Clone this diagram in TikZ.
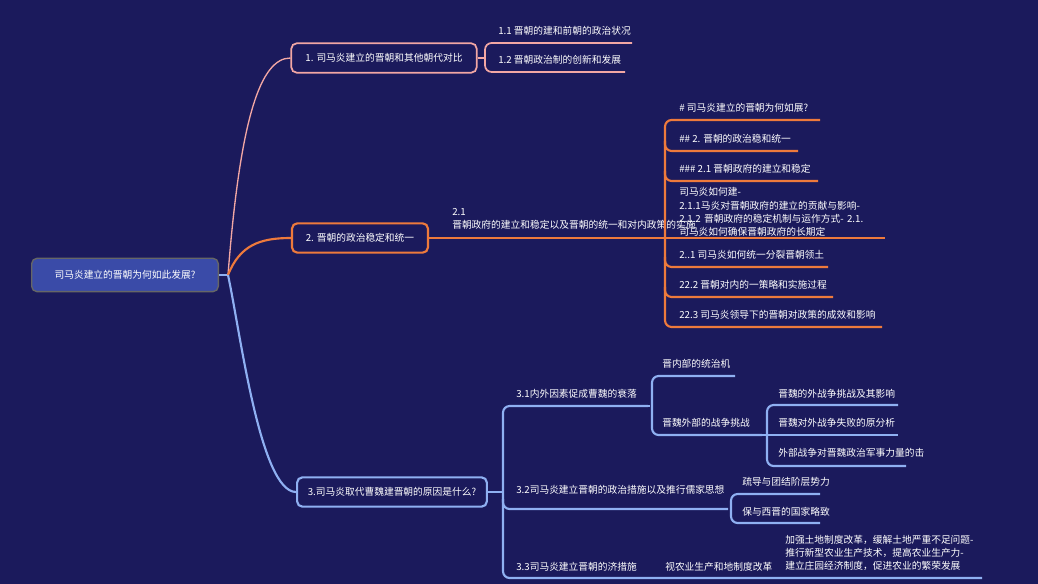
\documentclass[tikz,border=0pt]{standalone}
\usepackage{fontspec}
\setmainfont{Noto Sans CJK SC}
\begin{document}
\begin{tikzpicture}[x=0.75pt,y=-0.75pt,
  every node/.style={font=\fontsize{7.3}{10}\selectfont,text=white,inner sep=0pt},
  lbl/.style={anchor=west,align=left},
  pk/.style={draw=pinkc,line width=1.3pt},
  og/.style={draw=orgc,line width=1.6pt},
  bl/.style={draw=bluc,line width=1.6pt},
  box/.style={rounded corners=4pt,fill=bgc,inner xsep=8pt,minimum height=22pt}]
\definecolor{bgc}{HTML}{1B1A5C}
\definecolor{pinkc}{HTML}{F2A7A4}
\definecolor{orgc}{HTML}{EE7A3C}
\definecolor{bluc}{HTML}{8FB0F2}
\definecolor{rootc}{HTML}{3A4BA8}
\fill[bgc] (0,0) rectangle (1038,584);
\useasboundingbox (0,0) rectangle (1038,584);
% root
\node[rounded corners=4pt,fill=rootc,draw=black!60,line width=1pt,minimum width=140pt,minimum height=25pt] (root) at (125,275) {司马炎建立的晋朝为何如此发展?};
\coordinate (r) at (228,275);
\draw[bl] (root.east) -- (r);
% branch 1
\node[box,pk,minimum width=139pt] (b1) at (384,58) {1. 司马炎建立的晋朝和其他朝代对比};
\draw[pk,line width=1pt] (r) .. controls (240,120) and (260,58) .. (b1.west);
\draw[pk,rounded corners=5pt] (b1.east) -- (485,58);
\draw[pk,rounded corners=5pt] (632,43) -- (485,43) -- (485,72) -- (625,72);
\node[lbl] (t11) at (498,31) {1.1 晋朝的建和前朝的政治状况};
\node[lbl] (t12) at (498,60) {1.2 晋朝政治制的创新和发展};
% branch 2
\node[box,og,minimum width=102pt] (b2) at (360,238) {2. 晋朝的政治稳定和统一};
\draw[og] (r) .. controls (240,245) and (260,238) .. (b2.west);
\coordinate (c2) at (660,238);
\draw[og] (b2.east) -- (c2);
\node[lbl,text width=150pt] (t21) at (452,219) {2.1 晋朝政府的建立和稳定以及晋朝的统一和对内政策的实施};
\draw[og,rounded corners=5pt] (820,120) -- (665,120) -- (665,327) -- (882,327);
\draw[og] (c2) -- (885,238);
\foreach \y/\e in {151/798,181/818,267/828,297/833}
  \draw[og,rounded corners=5pt] (665,\y-10) -- (665,\y) -- (\e,\y);
\node[lbl] (a1) at (679,108) {\# 司马炎建立的晋朝为何如展?};
\node[lbl] (a2) at (679,139) {\#\# 2. 晋朝的政治稳和统一};
\node[lbl] (a3) at (679,169) {\#\#\# 2.1 晋朝政府的建立和稳定};
\node[lbl,text width=155pt] (a4) at (679,212) {司马炎如何建- 2.1.1马炎对晋朝政府的建立的贡献与影响- 2.1.2 晋朝政府的稳定机制与运作方式- 2.1. 司马炎如何确保晋朝政府的长期定};
\node[lbl] (a5) at (679,255) {2..1 司马炎如何统一分裂晋朝领土};
\node[lbl] (a6) at (679,285) {22.2 晋朝对内的一策略和实施过程};
\node[lbl] (a7) at (679,315) {22.3 司马炎领导下的晋朝对政策的成效和影响};
% branch 3
\node[box,bl,minimum width=140pt] (b3) at (392,492) {3.司马炎取代曹魏建晋朝的原因是什么?};
\draw[bl] (r) .. controls (240,330) and (260,492) .. (b3.west);
\draw[bl] (b3.east) -- (503,492);
\draw[bl,rounded corners=5pt] (648,406) -- (503,406) -- (503,578) -- (982,578);
\draw[bl,rounded corners=5pt] (503,499) -- (503,509) -- (728,509);
\node[lbl] (s1) at (516,394) {3.1内外因素促成曹魏的衰落};
\node[lbl,text width=150pt] (s2) at (516,490) {3.2司马炎建立晋朝的政治措施以及推行儒家思想};
\node[lbl] (s3) at (516,567) {3.3司马炎建立晋朝的济措施};
% 3.1 children
\draw[bl,rounded corners=5pt] (648,406) -- (650,406);
\draw[bl,rounded corners=5pt] (735,376) -- (652,376) -- (652,435) -- (762,435);
\node[lbl] (s11) at (662,364) {晋内部的统治机};
\node[lbl] (s12) at (662,423) {晋魏外部的战争挑战};
\draw[bl,rounded corners=5pt] (898,405) -- (767,405) -- (767,466) -- (906,466);
\draw[bl] (762,435) -- (898,435);
\node[lbl] (s121) at (778,394) {晋魏的外战争挑战及其影响};
\node[lbl] (s122) at (778,423) {晋魏对外战争失败的原分析};
\node[lbl] (s123) at (778,453) {外部战争对晋魏政治军事力量的击};
% 3.2 children
\draw[bl,rounded corners=5pt] (820,494) -- (731,494) -- (731,523) -- (820,523);
\node[lbl] (s21) at (742,482) {疏导与团结阶层势力};
\node[lbl] (s22) at (742,512) {保与西晋的国家略致};
% 3.3 children
\node[lbl] (s31) at (665,567) {视农业生产和地制度改革};
\node[lbl,text width=160pt] (s311) at (785,553) {加强土地制度改革，缓解土地严重不足问题- 推行新型农业生产技术，提高农业生产力- 建立庄园经济制度，促进农业的繁荣发展};
\end{tikzpicture}
\end{document}
